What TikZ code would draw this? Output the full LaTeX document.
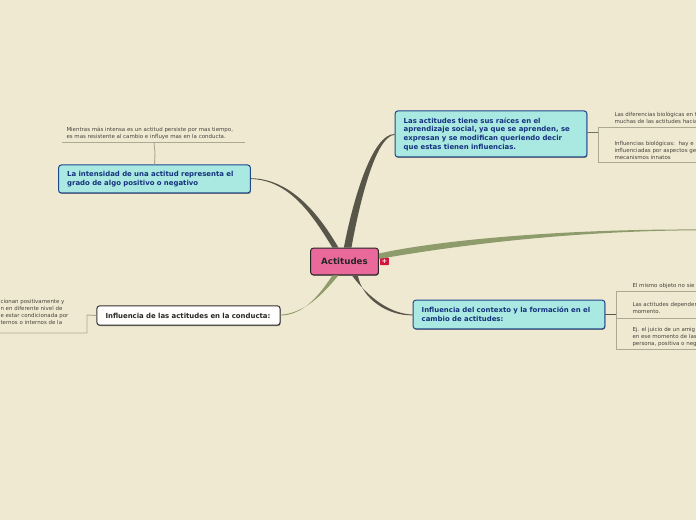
\documentclass[tikz,border=0pt]{standalone}
\usepackage{fontspec}
\setmainfont{DejaVu Sans}
\usetikzlibrary{shadows}
\definecolor{paper}{RGB}{240,233,210}
\definecolor{rootfill}{RGB}{232,105,154}
\definecolor{aquafill}{RGB}{170,232,226}
\definecolor{aquaedge}{RGB}{30,72,140}
\definecolor{aquatext}{RGB}{20,50,125}
\definecolor{darkbranch}{RGB}{88,86,72}
\definecolor{olivebranch}{RGB}{142,155,106}
\definecolor{thinline}{RGB}{172,168,146}
\definecolor{smalltext}{RGB}{70,66,58}
\definecolor{plusred}{RGB}{210,20,60}
\tikzset{every picture/.style={line width=0.75pt},
  topic/.style={draw,rounded corners=2pt,align=left,inner ysep=0pt,inner xsep=6.4pt,text width=#1,
    drop shadow={shadow xshift=0.4pt,shadow yshift=-0.7pt,opacity=0.45,fill=black}},
  aquatopic/.style={topic=#1,fill=aquafill,draw=aquaedge,text=aquatext,
    font=\fontsize{5.2}{6.5}\selectfont\bfseries},
  whitetopic/.style={topic=#1,fill=white!92!paper,draw=black!80,text=black!85,
    font=\fontsize{5.2}{6.5}\selectfont\bfseries},
  note/.style={anchor=west,inner sep=0pt,align=left,text=smalltext,
    font=\fontsize{4.1}{5.2}\selectfont},
  subline/.style={draw=thinline,line width=0.7pt}}

\begin{document}
\begin{tikzpicture}[x=0.75pt,y=0.75pt,yscale=-1,xscale=1]
	\useasboundingbox (0,0) rectangle (696,520);
	\fill[paper] (0,0) rectangle (696,520);

	% Topics
	\node (root) [topic=38pt,align=center,minimum height=20pt,fill=rootfill,draw=black!85,text=black!85,font=\fontsize{6.5}{7}\selectfont\bfseries] at (344.5,261.5) {Actitudes};
	\node (rootplus) [fill=plusred,text=white,inner sep=0pt,minimum width=6.5pt,minimum height=5.8pt,rounded corners=0.5pt,font=\fontsize{5}{5}\selectfont\bfseries] at (384.5,261.3) {+};
	\node (raices) [aquatopic=131pt,minimum height=34.5pt] at (491,134) {Las actitudes tiene sus raíces en el\\aprendizaje social, ya que se aprenden, se\\expresan y se modifican queriendo decir\\que estas tienen influencias.};
	\node (intensidad) [aquatopic=131pt,minimum height=21pt] at (154.5,179) {La intensidad de una actitud representa el\\grado de algo positivo o negativo};
	\node (contexto) [aquatopic=131pt,minimum height=21.5pt] at (509,314.5) {Influencia del contexto y la formación en el\\cambio de actitudes:};
	\node (conducta) [whitetopic=124.5pt,minimum height=14.5pt] at (188.5,315.5) {Influencia de las actitudes en la conducta:};

	% Free ends
	\coordinate (farright) at (696,229.5);
	\coordinate (bracketA) at (598,133);
	\coordinate (bracketC) at (616,314.5);
	\coordinate (stemB) at (154,142);
	\coordinate (bracketD) at (87,315);

	% Branches
	\fill[darkbranch] ([xshift=-0.5pt]root.north) .. controls (353,200) and (372,134) .. (raices.west) -- ([yshift=0.6pt]raices.west) .. controls (376,136) and (360,200) .. ([xshift=5.2pt]root.north) -- cycle;
	\fill[darkbranch] (intensidad.east) .. controls (290,180) and (313,216) .. ([xshift=-9pt]root.north) -- ([xshift=-4.5pt]root.north) .. controls (320,216) and (292,179) .. ([yshift=-0.6pt]intensidad.east) -- cycle;
	\fill[darkbranch] ([xshift=5.5pt]root.south) .. controls (368,297) and (390,314) .. (contexto.west) -- ([yshift=0.6pt]contexto.west) .. controls (388,316) and (362,299) .. ([xshift=10pt]root.south) -- cycle;
	\fill[olivebranch] ([xshift=-9pt]root.south) .. controls (318,297) and (303,315) .. (conducta.east) -- ([yshift=-0.6pt]conducta.east) .. controls (305,313) and (322,295) .. ([xshift=-4.5pt]root.south) -- cycle;
	\fill[olivebranch] ([yshift=-6pt]root.east) .. controls (450,238) and (580,229) .. (farright) -- ([yshift=0.6pt]farright) .. controls (580,231) and (470,243) .. ([yshift=-1.9pt]root.east) -- cycle;

	% Sub topics of raices
	\draw[darkbranch!70!thinline] (raices.east |- bracketA) -- (bracketA);
	\draw[subline] (696,127) -- (598,127) -- (598,162) -- (696,162);
	\node (raicesa) [note] at (614,117.5) {Las diferencias biológicas en t\\muchas de las actitudes hacia};
	\node (raicesb) [note] at (614,150) {Influencias biológicas:\ \ hay e\\influenciadas por aspectos ge\\mecanismos innatos};

	% Sub topics of contexto
	\draw[darkbranch] (contexto.east) -- (bracketC);
	\draw[subline] (696,291) -- (616,291) -- (616,349.5) -- (696,349.5);
	\draw[subline] (616,318) -- (696,318);
	\node (contextoa) [note] at (632,285.5) {El mismo objeto no sie};
	\node (contextob) [note] at (632,308) {Las actitudes dependen\\momento.};
	\node (contextoc) [note] at (632,337) {Ej. el juicio de un amig\\en ese momento de las\\persona, positiva o neg};

	% Sub topic of intensidad
	\draw[subline] (intensidad.north) -- (155,153) -- (stemB);
	\draw[subline] (62,142) -- (245,142);
	\node (intensidada) [note] at (66,133) {Mientras más intensa es un actitud persiste por mas tiempo,\\es mas resistente al cambio e influye mas en la conducta.};

	% Sub topic of conducta
	\draw[subline] (conducta.west) -- (bracketD) -- (87,333) -- (0,333);
	\node (conductaa) [note] at (0,312) {cionan positivamente y\\n en diferente nivel de\\e estar condicionada por\\ternos o internos de la};
\end{tikzpicture}
\end{document}
